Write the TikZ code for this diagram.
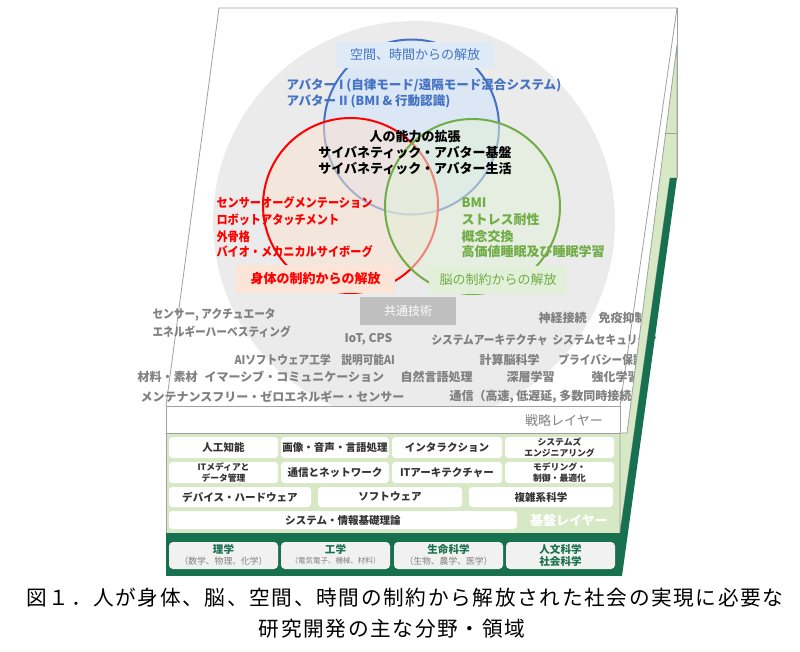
\documentclass[tikz,border=0pt]{standalone}
\usepackage{fontspec}
\newfontfamily\jpfont{Noto Sans CJK JP}
\newfontfamily\jpcfont{Noto Sans CJK JP}[FakeStretch=0.89]
\newfontfamily\capfont{Noto Sans CJK JP}[LetterSpace=8]

\definecolor{avblue}{RGB}{68,114,196}
\definecolor{avbluefill}{RGB}{220,231,245}
\definecolor{avlabel}{RGB}{222,235,247}
\definecolor{bodyred}{RGB}{255,0,0}
\definecolor{bodyfill}{RGB}{251,226,211}
\definecolor{bodylabel}{RGB}{252,228,214}
\definecolor{braingreen}{RGB}{112,173,71}
\definecolor{brainfill}{RGB}{226,239,217}
\definecolor{brainlabel}{RGB}{226,240,217}
\definecolor{discgray}{RGB}{235,235,235}
\definecolor{techgray}{RGB}{128,128,128}
\definecolor{techbox}{RGB}{191,191,191}
\definecolor{basegreen}{RGB}{214,233,196}
\definecolor{rootgreen}{RGB}{23,112,79}
\definecolor{rootbox}{RGB}{240,241,240}
\definecolor{edgegray}{RGB}{160,160,160}

\tikzset{every picture/.style={line width=0.75pt}}
\tikzset{
  plane/.style={draw=edgegray, line width=0.6pt},
  ring/.style={line width=1.5pt},
  lbl/.style={inner sep=0pt},
  labelbox/.style={lbl, minimum height=21pt},
  avtxt/.style={lbl, anchor=west, text=avblue, font=\jpfont\bfseries\fontsize{9.4}{11}\selectfont},
  coretxt/.style={lbl, text=black, font=\jpfont\bfseries\fontsize{9.75}{12}\selectfont},
  bodytxt/.style={lbl, anchor=west, text=bodyred, font=\jpcfont\bfseries\fontsize{9.4}{11}\selectfont},
  braintxt/.style={lbl, anchor=west, text=braingreen, font=\jpfont\bfseries\fontsize{9.75}{11}\selectfont},
  techtxt/.style={lbl, anchor=west, text=techgray, font=\jpfont\bfseries\fontsize{9}{11}\selectfont},
  technarrow/.style={techtxt, font=\jpcfont\bfseries\fontsize{9}{11}\selectfont},
  layertxt/.style={lbl, font=\jpfont\bfseries\fontsize{9.75}{11}\selectfont},
  cell/.style={fill=white, rounded corners=2.5pt},
  celltxt/.style={lbl, text=black!80, font=\jpfont\bfseries\fontsize{7.9}{9}\selectfont},
  cellsmall/.style={lbl, text=black!80, align=center, font=\jpfont\bfseries\fontsize{6.6}{7.8}\selectfont},
  rootcell/.style={fill=rootbox, rounded corners=3pt},
  roottitle/.style={lbl, text=rootgreen, font=\jpfont\bfseries\fontsize{7.9}{9}\selectfont},
  rootsub/.style={lbl, text=techgray, font=\jpfont\fontsize{6.6}{8}\selectfont},
  captxt/.style={lbl, text=black, font=\capfont\fontsize{15.5}{18}\selectfont}
}

\begin{document}
\begin{tikzpicture}[x=0.75pt,y=0.75pt,yscale=-1,xscale=1]
	\useasboundingbox (0,0) rectangle (800,651);

	%Shape: strategy plane
	\draw [plane] (166,406) -- (219,8) -- (677,8) -- (620,406) ;
	%Shape: common disc
	\fill [discgray] (414,222) circle (201) ;

	%Shape: circles
	\draw [ring, avblue, fill=avbluefill] (411.5,127) circle (87.5) ;
	\draw [ring, bodyred, fill=bodyfill, fill opacity=0.55] (350.5,205.5) circle (87.5) ;
	\draw [ring, braingreen, fill=brainfill, fill opacity=0.55] (472.5,206.5) circle (87.5) ;

	% Label boxes
	\node [labelbox, fill=avlabel, minimum width=118.5pt, minimum height=19.5pt, text=avblue, font=\jpfont\fontsize{9.75}{11}\selectfont] (spacebox) at (415,55) {空間、時間からの解放};
	\node [labelbox, fill=bodylabel, minimum width=119.25pt, text=bodyred, font=\jpfont\bfseries\fontsize{9.75}{11}\selectfont] (bodybox) at (315.5,279) {身体の制約からの解放};
	\node [labelbox, fill=brainlabel, minimum width=103.5pt, text=braingreen, font=\jpfont\fontsize{9.75}{11}\selectfont] (brainbox) at (498,280) {脳の制約からの解放};
	\node [labelbox, fill=techbox, minimum width=72pt, text=white, font=\jpfont\fontsize{9}{11}\selectfont] (techbox) at (408,311) {共通技術};

	% Text Node
	\node [avtxt] (avatar1) at (286,85) {アバター I (自律モード/遠隔モード混合システム)};
	\node [avtxt] (avatar2) at (286,101) {アバター II (BMI \& 行動認識)};
	% Text Node
	\node [coretxt] (extend) at (415,137) {人の能力の拡張};
	\node [coretxt] (cabase) at (415,153) {サイバネティック・アバター基盤};
	\node [coretxt] (calife) at (415,169) {サイバネティック・アバター生活};
	% Text Node
	\node [bodytxt] (augment) at (216,203) {センサーオーグメンテーション};
	\node [bodytxt] (robot) at (216,220) {ロボットアタッチメント};
	\node [bodytxt] (exo) at (216,237) {外骨格};
	\node [bodytxt] (cyborg) at (216,252) {バイオ・メカニカルサイボーグ};
	% Text Node
	\node [braintxt] (bmi) at (461,203) {BMI};
	\node [braintxt] (stress) at (461,220) {ストレス耐性};
	\node [braintxt] (concept) at (461,237) {概念交換};
	\node [braintxt] (sleep) at (461,252) {高価値睡眠及び睡眠学習};

	% Text Node
	\node [technarrow] (sensor) at (152,315) {センサー, アクチュエータ};
	\node [technarrow] (harvest) at (152,332) {エネルギーハーベスティング};
	\node [techtxt] (iot) at (344,339) {IoT, CPS};
	\node [technarrow] (sysarch) at (431,340) {システムアーキテクチャ};
	\node [technarrow] (syssec) at (552,340) {システムセキュリティ};
	\node [techtxt] (neural) at (538,318) {神経接続　免疫抑制};
	\node [technarrow] (aisoft) at (234,360) {AIソフトウェア工学　説明可能AI};
	\node [techtxt] (compneuro) at (479,360) {計算脳科学};
	\node [technarrow] (privacy) at (558,360) {プライバシー保護};
	\node [techtxt] (material) at (137,377) {材料・素材};
	\node [techtxt] (immersive) at (204,377) {イマーシブ・コミュニケーション};
	\node [techtxt] (nlp) at (400,377) {自然言語処理};
	\node [techtxt] (deep) at (506,377) {深層学習};
	\node [techtxt] (reinforce) at (591,377) {強化学習};
	\node [techtxt] (maintfree) at (140,397) {メンテナンスフリー・ゼロエネルギー・センサー};
	\node [techtxt] (comm) at (449,397) {通信（高速, 低遅延, 多数同時接続）};

	%Shape: strategy layer
	\draw [plane, fill=white] (166,406) rectangle (620,433) ;
	\node [layertxt, text=techgray, font=\jpfont\fontsize{9.75}{11}\selectfont] (strategy) at (564,421) {戦略レイヤー};

	%Shape: base layer
	\draw [plane, fill=basegreen] (166,433) rectangle (620,533) ;
	\path [cell] (169,437) rectangle (278,458) ;
	\path [cell] (281,437) rectangle (389,458) ;
	\path [cell] (392,437) rectangle (502,458) ;
	\path [cell] (505,437) rectangle (614,458) ;
	\path [cell] (169,462) rectangle (278,483) ;
	\path [cell] (281,462) rectangle (389,483) ;
	\path [cell] (392,462) rectangle (502,483) ;
	\path [cell] (505,462) rectangle (614,483) ;
	\path [cell] (169,487) rectangle (311,507) ;
	\path [cell] (318,487) rectangle (462,507) ;
	\path [cell] (469,487) rectangle (613,507) ;
	\path [cell] (169,511) rectangle (517,529) ;
	% Text Node
	\node [celltxt] (ai) at (223.5,447.5) {人工知能};
	\node [celltxt] (media) at (335,447.5) {画像・音声・言語処理};
	\node [celltxt] (interact) at (447,447.5) {インタラクション};
	\node [cellsmall] (syseng) at (559.5,447.5) {システムズ\\エンジニアリング};
	\node [cellsmall] (itmedia) at (223.5,472.5) {ITメディアと\\データ管理};
	\node [celltxt] (network) at (335,472.5) {通信とネットワーク};
	\node [celltxt] (itarch) at (447,472.5) {ITアーキテクチャー};
	\node [cellsmall] (modeling) at (559.5,472.5) {モデリング・\\制御・最適化};
	\node [celltxt] (device) at (240,497) {デバイス・ハードウェア};
	\node [celltxt] (software) at (390,497) {ソフトウェア};
	\node [celltxt] (complex) at (541,497) {複雑系科学};
	\node [celltxt] (theory) at (343,520) {システム・情報基礎理論};
	\node [layertxt, text=white] (base) at (569,520) {基盤レイヤー};

	%Shape: root layer
	\fill [rootgreen] (166,533) rectangle (620,576) ;
	\path [rootcell] (169,542) rectangle (278,569) ;
	\path [rootcell] (281,542) rectangle (390,569) ;
	\path [rootcell] (394,542) rectangle (503,569) ;
	\path [rootcell] (506,542) rectangle (615,569) ;
	% Text Node
	\node [roottitle] (science) at (223.5,549) {理学};
	\node [rootsub] (sciencesub) at (223.5,561) {（数学、物理、化学）};
	\node [roottitle] (engineer) at (335.5,549) {工学};
	\node [rootsub, font=\jpfont\fontsize{5.6}{7}\selectfont] (engineersub) at (335.5,561) {（電気電子、機械、材料）};
	\node [roottitle] (life) at (448.5,549) {生命科学};
	\node [rootsub] (lifesub) at (448.5,561) {（生物、農学、医学）};
	\node [roottitle] (human) at (560.5,549) {人文科学};
	\node [roottitle] (social) at (560.5,561) {社会科学};

	%Shape: side faces
	\draw [plane] (677,8) -- (677,178) ;
	\draw [plane, fill=basegreen] (677,45) -- (677,178) -- (670,178) -- (620,533) -- (620,433) -- (627,433) -- cycle ;
	\draw [plane] (665,133) -- (677,133) ;
	\fill [rootgreen] (670,178) -- (677,178) -- (622,576) -- (620,576) -- (620,533) -- cycle ;

	% Text Node
	\node [captxt] (caption1) at (405,598) {図１．人が身体、脳、空間、時間の制約から解放された社会の実現に必要な};
	\node [captxt] (caption2) at (392,629) {研究開発の主な分野・領域};

\end{tikzpicture}
\end{document}
